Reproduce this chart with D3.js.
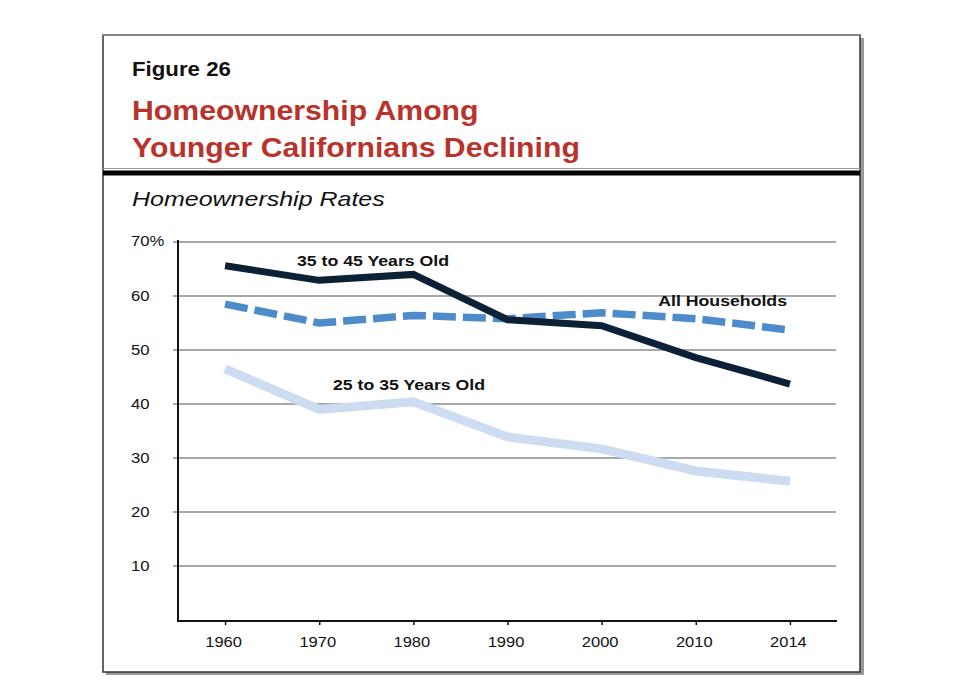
<!DOCTYPE html>
<html>
<head>
<meta charset="utf-8">
<script src="https://cdn.jsdelivr.net/npm/d3@7"></script>
<style>
  body { margin: 0; background: #fff; }
  svg { display: block; font-family: Arial, "Liberation Sans", sans-serif; }
</style>
</head>
<body>
<svg class="main" width="960" height="685"></svg>
<script>
var years = ["1960", "1970", "1980", "1990", "2000", "2010", "2014"];
var age35to45 = [65.6, 62.9, 64.0, 55.6, 54.5, 48.6, 43.7];
var allHouseholds = [58.5, 55.0, 56.4, 55.8, 56.9, 55.8, 53.7];
var age25to35 = [46.5, 39.0, 40.4, 33.9, 31.7, 27.6, 25.7];
var yTicks = [10, 20, 30, 40, 50, 60, 70];

var svg = d3.select(".main");

// text stretched a little horizontally, like the source image
function label(parent, str, x, y, size, sx, opts) {
    opts = opts || {};
    var g = parent.append("g").attr("transform", "translate(" + x + "," + y + ") scale(" + sx + ",1)");
    return g.append("text").text(str)
        .attr("font-size", size)
        .attr("font-weight", opts.weight || "normal")
        .attr("font-style", opts.style || "normal")
        .attr("text-anchor", opts.anchor || "start")
        .attr("dominant-baseline", opts.baseline || "auto")
        .attr("fill", opts.fill || "#111");
}

// frame with shadow
svg.append("rect").attr("x", 106).attr("y", 38).attr("width", 758).attr("height", 637).attr("fill", "#9a9a9a");
svg.append("rect").attr("x", 103).attr("y", 35).attr("width", 757).attr("height", 637)
    .attr("fill", "#fff").attr("stroke", "#333").attr("stroke-width", 1.5);
svg.append("line").attr("x1", 103).attr("x2", 860).attr("y1", 35).attr("y2", 35)
    .attr("stroke", "#888").attr("stroke-width", 2);

// header
label(svg, "Figure 26", 132, 76, 21, 1.06, { weight: "bold" });
label(svg, "Homeownership Among", 132, 120, 27, 1.12, { weight: "bold", fill: "#b8332c" });
label(svg, "Younger Californians Declining", 132, 157, 27, 1.12, { weight: "bold", fill: "#b8332c" });
svg.append("line").attr("x1", 103).attr("x2", 860).attr("y1", 168.5).attr("y2", 168.5)
    .attr("stroke", "#999").attr("stroke-width", 1);
svg.append("rect").attr("x", 103).attr("y", 170.5).attr("width", 757).attr("height", 5).attr("fill", "#000");
label(svg, "Homeownership Rates", 132, 206, 21, 1.19, { style: "italic" });

// scales
var x = d3.scalePoint().domain(years).range([178, 837]).padding(0.5);
var y = d3.scaleLinear().domain([0, 70]).range([620, 242]);

var plot = svg.append("g");

// grid
plot.selectAll(".grid").data(yTicks).enter().append("line")
    .attr("x1", 173).attr("x2", 836)
    .attr("y1", function(d) { return y(d); }).attr("y2", function(d) { return y(d); })
    .attr("stroke", "#a8a8a8").attr("stroke-width", 2);

// y labels, left aligned
yTicks.forEach(function(d) {
    label(plot, d === 70 ? "70%" : String(d), 131, y(d) + (d === 70 ? -1 : 0), 14.5, 1.15, { baseline: "central" });
});
plot.append("line").attr("x1", 178).attr("x2", 178).attr("y1", 240).attr("y2", 621)
    .attr("stroke", "#111").attr("stroke-width", 2);

var xAxis = plot.append("g").attr("transform", "translate(0,621)")
    .call(d3.axisBottom(x).tickSize(4).tickPadding(12).tickSizeOuter(0));
xAxis.select(".domain").attr("d", "M177,0H837").attr("stroke", "#111").attr("stroke-width", 2);
xAxis.selectAll(".tick line").attr("stroke", "#111").attr("stroke-width", 1.5);
xAxis.selectAll(".tick text").remove();
xAxis.selectAll(".tick").each(function(d) {
    label(d3.select(this), d, -2, 26, 15, 1.1, { anchor: "middle" });
});

// lines
var line = d3.line()
    .x(function(d, i) { return x(years[i]); })
    .y(function(d) { return y(d); });

plot.append("path").datum(age25to35).attr("d", line)
    .attr("fill", "none").attr("stroke", "#cedcf1").attr("stroke-width", 9);
plot.append("path").datum(allHouseholds).attr("d", line)
    .attr("fill", "none").attr("stroke", "#4e8bcb").attr("stroke-width", 7.5)
    .attr("stroke-dasharray", "23,7");
plot.append("path").datum(age35to45).attr("d", line)
    .attr("fill", "none").attr("stroke", "#0c2136").attr("stroke-width", 7);

// series labels
label(plot, "35 to 45 Years Old", 297, 266, 15, 1.18, { weight: "bold" });
label(plot, "All Households", 787, 306, 15, 1.18, { weight: "bold", anchor: "end" });
label(plot, "25 to 35 Years Old", 333, 390, 15, 1.18, { weight: "bold" });
</script>
</body>
</html>
